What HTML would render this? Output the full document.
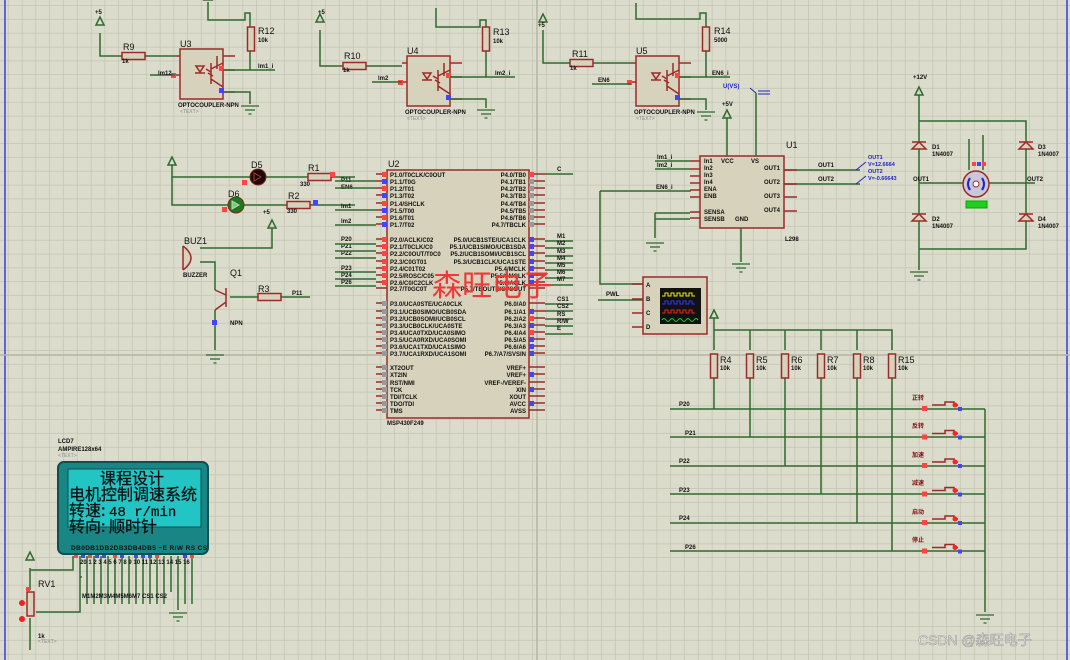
<!DOCTYPE html>
<html><head><meta charset="utf-8"><style>
html,body{margin:0;padding:0;}
body{width:1070px;height:660px;overflow:hidden;background:#dcdccd;}
svg{display:block;font-family:"Liberation Sans","Noto Sans CJK SC",sans-serif;}
.w{stroke:#2f6a2f;stroke-width:1.5;fill:none}
.c{stroke:#9b2a2a;stroke-width:1.5;fill:#d6d2bb}
.cl{stroke:#9b2a2a;stroke-width:1.5;fill:none}
.t{font-size:6px;font-weight:bold;fill:#111}
.g{font-size:5px;fill:#888}
.lb{font-size:9px;fill:#111}
</style></head><body>
<svg width="1070" height="660" viewBox="0 0 1070 660">
<defs>
<pattern id="grid" x="8.6" y="6" width="13.8" height="13.8" patternUnits="userSpaceOnUse">
<path d="M13.8 0V13.8M0 13.8H13.8" stroke="#c0c0ae" stroke-width="1.3" fill="none"/>
</pattern>
<g id="rh"><rect x="0" y="-3.5" width="23" height="7" class="c"/></g>
<g id="rv"><rect x="-3.5" y="0" width="7" height="24" class="c"/></g>
<g id="pw"><path d="M0 8L-4 0H4Z M-4 0H4" class="w" transform="translate(0,-8) scale(1,-1) translate(0,-8)"/></g>
<g id="gnd"><path d="M-9 0H9M-5 4H5M-1.5 8H1.5" stroke="#2f6a2f" stroke-width="1.3"/></g>
<g id="opto">
<rect x="0" y="0" width="43" height="50" class="c"/>
<path d="M-5 7H0M-5 26H0M43 7H55M43 21H55M43 43H55" class="cl"/>
<path d="M16 17L24 17L20 23Z M15 24H25" class="cl"/>
<path d="M26 20l5 3M28 24l5 3" class="cl"/>
<path d="M31 14V35M31 20L43 14M31 30L43 38M37 7V20" class="cl" />
<rect x="39" y="17" width="5" height="5" fill="#f44"/>
<rect x="39" y="39" width="5" height="5" fill="#44f"/>
<rect x="-9" y="24" width="5" height="5" fill="#f44"/>
<text x="-2" y="58" class="t">OPTOCOUPLER-NPN</text>
<text x="0" y="64" class="g">&lt;TEXT&gt;</text>
</g>
</defs>
<rect width="1070" height="660" fill="url(#grid)"/>
<line x1="5" y1="0" x2="5" y2="660" stroke="#3a3ae0" stroke-width="1.5"/>
<line x1="1067" y1="0" x2="1067" y2="660" stroke="#3a3ae0" stroke-width="1.5"/>
<line x1="537" y1="0" x2="537" y2="660" stroke="#b5b5a3" stroke-width="1.5"/>
<line x1="0" y1="355" x2="1070" y2="355" stroke="#b5b5a3" stroke-width="1.5"/>

<g transform="translate(180,49)"><use href="#opto"/></g>
<text x="180" y="47" class="lb">U3</text>
<path class="w" d="M100 33V56H122M145 56H175M150 75H175M223 70H275M250 50V70M223 92H250V104M208 2V20H245V13H250V27M240 70" />
<use href="#pw" x="100" y="25"/><text x="95" y="14" class="t">+5</text>
<use href="#rh" x="122" y="56"/><text x="123" y="50" class="lb">R9</text><text x="122" y="63" class="t">1k</text>
<use href="#rv" x="251" y="27"/><text x="258" y="34" class="lb">R12</text><text x="258" y="42" class="t">10k</text>
<use href="#gnd" x="250" y="106"/>
<path d="M204 0l4 -6 4 6z" class="w"/>
<text x="158" y="75" class="t">lm12</text><text x="258" y="68" class="t">lm1_i</text>

<g transform="translate(407,56)"><use href="#opto"/></g>
<text x="407" y="54" class="lb">U4</text>
<path class="w" d="M320 30V66H343M366 66H402M372 82H402M450 77H515M486 50V77M450 99H486V108M436 8V27H480V20H486V27" />
<use href="#pw" x="320" y="22"/><text x="318" y="14" class="t">+5</text>
<use href="#rh" x="343" y="66"/><text x="344" y="59" class="lb">R10</text><text x="343" y="72" class="t">1k</text>
<use href="#rv" x="486" y="27"/><text x="493" y="35" class="lb">R13</text><text x="493" y="43" class="t">10k</text>
<use href="#gnd" x="486" y="110"/>
<text x="378" y="80" class="t">lm2</text><text x="495" y="75" class="t">lm2_i</text>

<g transform="translate(636,56)"><use href="#opto"/></g>
<text x="636" y="54" class="lb">U5</text>
<path class="w" d="M543 30V63H570M593 63H631M592 84H631M679 77H730M706 50V77M679 99H706V110M636 3V19H700V13H706V27" />
<use href="#pw" x="543" y="22"/><text x="538" y="27" class="t">+5</text>
<use href="#rh" x="570" y="63"/><text x="572" y="57" class="lb">R11</text><text x="570" y="70" class="t">1k</text>
<use href="#rv" x="706" y="27"/><text x="714" y="34" class="lb">R14</text><text x="714" y="42" class="t">5000</text>
<use href="#gnd" x="706" y="112"/>
<text x="598" y="82" class="t">EN6</text><text x="712" y="75" class="t">EN6_i</text>

<path class="w" d="M172 165V205H228M172 177H250M266 177H308M243 205H287M331 177H355M308 205H355" />
<use href="#pw" x="172" y="165"/>
<circle cx="258" cy="177" r="8" fill="#1a0c0c" stroke="#8b2020"/>
<path d="M254 173v8l7-4z" fill="none" stroke="#a33"/>
<circle cx="236" cy="205" r="8" fill="#1b7a1b" stroke="#8b2020"/>
<path d="M232 201v8l7-4z" fill="#7c7" stroke="#ccc"/>
<text x="251" y="168" class="lb">D5</text><text x="228" y="197" class="lb">D6</text>
<use href="#rh" x="308" y="177"/><text x="308" y="171" class="lb">R1</text>
<use href="#rh" x="287" y="205"/><text x="288" y="199" class="lb">R2</text>
<text x="300" y="186" class="t">330</text><text x="287" y="213" class="t">330</text>
<text x="263" y="214" class="t">+5</text>
<rect x="242" y="180" width="5" height="5" fill="#f44"/><rect x="222" y="207" width="5" height="5" fill="#f44"/>
<rect x="330" y="172" width="5" height="5" fill="#f44"/><rect x="313" y="200" width="5" height="5" fill="#44f"/>

<path class="w" d="M272 228V248H200M200 262H215V290M215 310V350M230 297H258M281 297H310" />
<use href="#pw" x="272" y="228"/>
<path d="M183 246V270 M183 246Q199 258 183 270" class="c"/>
<text x="184" y="244" class="lb">BUZ1</text><text x="183" y="277" class="t">BUZZER</text>
<path d="M226 288V307M215 290L226 295M215 310L226 302" class="cl"/>
<text x="230" y="276" class="lb">Q1</text><text x="230" y="325" class="t">NPN</text>
<use href="#rh" x="258" y="297"/><text x="258" y="292" class="lb">R3</text><text x="292" y="295" class="t">P11</text>
<use href="#gnd" x="215" y="355"/>
<rect x="212" y="320" width="5" height="5" fill="#44f"/>

<g class="t">
<text x="341" y="182">P11</text><text x="341" y="189">EN6</text><text x="341" y="208">lm1</text><text x="341" y="223">lm2</text>
<text x="341" y="241">P20</text><text x="341" y="248">P21</text><text x="341" y="255">P22</text><text x="341" y="270">P23</text><text x="341" y="277">P24</text><text x="341" y="284">P26</text>
</g>
<path class="w" d="M335 181H376M335 188H376M335 210H376M335 225H376M335 244H376M335 251H376M335 258H376M335 272H376M335 279H376M335 286H376"/>

<rect x="387" y="170" width="142" height="248" class="c"/>
<text x="388" y="167" class="lb">U2</text>
<path class="cl" d="M376 174H387M376 181H387M376 188H387M376 195H387M376 203H387M376 210H387M376 217H387M376 224H387
M376 239H387M376 246H387M376 253H387M376 261H387M376 268H387M376 275H387M376 282H387M376 288H387
M376 303H387M376 311H387M376 318H387M376 325H387M376 332H387M376 339H387M376 346H387M376 353H387
M376 367H387M376 374H387M376 382H387M376 389H387M376 396H387M376 403H387M376 410H387
M529 174H545M529 181H545M529 188H545M529 195H545M529 203H545M529 210H545M529 217H545M529 224H545
M529 239H545M529 246H545M529 253H545M529 261H545M529 268H545M529 275H545M529 282H545M529 288H545
M529 303H545M529 311H545M529 318H545M529 325H545M529 332H545M529 339H545M529 346H545M529 353H545
M529 367H545M529 374H545M529 382H545M529 389H545M529 396H545M529 403H545M529 410H545"/>
<g fill="#f44"><rect x="382" y="172" width="5" height="5"/><rect x="382" y="186" width="5" height="5"/><rect x="382" y="201" width="5" height="5"/><rect x="382" y="215" width="5" height="5"/>
<rect x="382" y="237" width="5" height="5"/><rect x="382" y="244" width="5" height="5"/><rect x="382" y="251" width="5" height="5"/><rect x="382" y="259" width="5" height="5"/><rect x="382" y="266" width="5" height="5"/><rect x="382" y="273" width="5" height="5"/><rect x="382" y="280" width="5" height="5"/>
<rect x="529" y="172" width="5" height="5"/><rect x="529" y="316" width="5" height="5"/><rect x="529" y="330" width="5" height="5"/></g>
<g fill="#44f"><rect x="382" y="179" width="5" height="5"/><rect x="382" y="193" width="5" height="5"/><rect x="382" y="208" width="5" height="5"/><rect x="382" y="222" width="5" height="5"/>
<rect x="529" y="237" width="5" height="5"/><rect x="529" y="244" width="5" height="5"/><rect x="529" y="251" width="5" height="5"/><rect x="529" y="259" width="5" height="5"/><rect x="529" y="266" width="5" height="5"/><rect x="529" y="273" width="5" height="5"/><rect x="529" y="280" width="5" height="5"/>
<rect x="529" y="309" width="5" height="5"/><rect x="529" y="323" width="5" height="5"/><rect x="529" y="337" width="5" height="5"/><rect x="529" y="344" width="5" height="5"/><rect x="529" y="351" width="5" height="5"/>
<rect x="529" y="372" width="5" height="5"/><rect x="529" y="387" width="5" height="5"/><rect x="529" y="401" width="5" height="5"/></g>
<g fill="#999"><rect x="382" y="301" width="5" height="5"/><rect x="382" y="309" width="5" height="5"/><rect x="382" y="316" width="5" height="5"/><rect x="382" y="323" width="5" height="5"/><rect x="382" y="330" width="5" height="5"/><rect x="382" y="337" width="5" height="5"/><rect x="382" y="344" width="5" height="5"/><rect x="382" y="351" width="5" height="5"/>
<rect x="382" y="365" width="5" height="5"/><rect x="382" y="372" width="5" height="5"/><rect x="382" y="380" width="5" height="5"/><rect x="382" y="387" width="5" height="5"/><rect x="382" y="394" width="5" height="5"/><rect x="382" y="401" width="5" height="5"/><rect x="382" y="408" width="5" height="5"/>
<rect x="529" y="179" width="5" height="5"/><rect x="529" y="186" width="5" height="5"/><rect x="529" y="193" width="5" height="5"/><rect x="529" y="201" width="5" height="5"/><rect x="529" y="208" width="5" height="5"/><rect x="529" y="215" width="5" height="5"/><rect x="529" y="222" width="5" height="5"/></g>
<g class="t" font-size="5.5">
<text x="390" y="177">P1.0/T0CLK/C0OUT</text><text x="390" y="184">P1.1/T0G</text><text x="390" y="191">P1.2/T01</text><text x="390" y="198">P1.3/T02</text><text x="390" y="206">P1.4/SHCLK</text><text x="390" y="213">P1.5/T00</text><text x="390" y="220">P1.6/T01</text><text x="390" y="227">P1.7/T02</text>
<text x="390" y="242">P2.0/ACLK/C02</text><text x="390" y="249">P2.1/T0CLK/C0</text><text x="390" y="256">P2.2/C0OUT/T0C0</text><text x="390" y="264">P2.3/C0GT01</text><text x="390" y="271">P2.4/C01T02</text><text x="390" y="278">P2.5/ROSC/C05</text><text x="390" y="285">P2.6/C0/C2CLK</text><text x="390" y="291">P2.7/T0GC0T</text>
<text x="390" y="306">P3.0/UCA0STE/UCA0CLK</text><text x="390" y="314">P3.1/UCB0SIMO/UCB0SDA</text><text x="390" y="321">P3.2/UCB0SOMI/UCB0SCL</text><text x="390" y="328">P3.3/UCB0CLK/UCA0STE</text><text x="390" y="335">P3.4/UCA0TXD/UCA0SIMO</text><text x="390" y="342">P3.5/UCA0RXD/UCA0SOMI</text><text x="390" y="349">P3.6/UCA1TXD/UCA1SIMO</text><text x="390" y="356">P3.7/UCA1RXD/UCA1SOMI</text>
<text x="390" y="370">XT2OUT</text><text x="390" y="377">XT2IN</text><text x="390" y="385">RST/NMI</text><text x="390" y="392">TCK</text><text x="390" y="399">TDI/TCLK</text><text x="390" y="406">TDO/TDI</text><text x="390" y="413">TMS</text>
<g text-anchor="end"><text x="526" y="177">P4.0/TB0</text><text x="526" y="184">P4.1/TB1</text><text x="526" y="191">P4.2/TB2</text><text x="526" y="198">P4.3/TB3</text><text x="526" y="206">P4.4/TB4</text><text x="526" y="213">P4.5/TB5</text><text x="526" y="220">P4.6/TB6</text><text x="526" y="227">P4.7/TBCLK</text>
<text x="526" y="242">P5.0/UCB1STE/UCA1CLK</text><text x="526" y="249">P5.1/UCB1SIMO/UCB1SDA</text><text x="526" y="256">P5.2/UCB1SOMI/UCB1SCL</text><text x="526" y="264">P5.3/UCB1CLK/UCA1STE</text><text x="526" y="271">P5.4/MCLK</text><text x="526" y="278">P5.5/SMCLK</text><text x="526" y="285">P5.6/ACLK</text><text x="526" y="291">P5.7/TBOUTH/SVSOUT</text>
<text x="526" y="306">P6.0/A0</text><text x="526" y="314">P6.1/A1</text><text x="526" y="321">P6.2/A2</text><text x="526" y="328">P6.3/A3</text><text x="526" y="335">P6.4/A4</text><text x="526" y="342">P6.5/A5</text><text x="526" y="349">P6.6/A6</text><text x="526" y="356">P6.7/A7/SVSIN</text>
<text x="526" y="370">VREF+</text><text x="526" y="377">VREF+</text><text x="526" y="385">VREF-/VEREF-</text><text x="526" y="392">XIN</text><text x="526" y="399">XOUT</text><text x="526" y="406">AVCC</text><text x="526" y="413">AVSS</text></g>
</g>
<text x="387" y="425" class="t">MSP430F249</text>
<path class="w" d="M545 174H573M545 241H573M545 248H573M545 256H573M545 263H573M545 270H573M545 278H573M545 285H573M545 304H573M545 311H573M545 319H573M545 326H573M545 334H573"/>
<g class="t"><text x="557" y="171">C</text><text x="557" y="238">M1</text><text x="557" y="245">M2</text><text x="557" y="253">M3</text><text x="557" y="260">M4</text><text x="557" y="267">M5</text><text x="557" y="274">M6</text><text x="557" y="281">M7</text><text x="557" y="301">CS1</text><text x="557" y="308">CS2</text><text x="557" y="316">RS</text><text x="557" y="323">R/W</text><text x="557" y="330">E</text></g>
<text x="432" y="296" font-size="30" fill="#f03838" font-family="'Noto Sans CJK SC',sans-serif">森旺电子</text>

<rect x="700" y="156" width="84" height="72" class="c"/>
<text x="786" y="148" class="lb">U1</text><text x="785" y="241" class="t">L298</text>
<path class="w" d="M727 118V156M756 93V156M655 161H690M655 169H690M600 191H690V190M600 191V284H643M655 213H690M655 219H690M655 213V238M741 228V262M784 170H860M784 184H860M598 300H643"/>
<use href="#pw" x="727" y="118"/><text x="722" y="106" class="t">+5V</text>
<use href="#gnd" x="655" y="243"/><use href="#gnd" x="741" y="264"/>
<path class="cl" d="M690 161H700M690 169H700M690 176H700M690 183H700M690 190H700M690 197H700M690 212H700M690 218H700M784 170H797M784 184H797M784 197H797M784 211H797"/>
<g class="t"><text x="704" y="163">In1</text><text x="704" y="170">In2</text><text x="704" y="177">In3</text><text x="704" y="184">In4</text><text x="704" y="191">ENA</text><text x="704" y="198">ENB</text><text x="704" y="214">SENSA</text><text x="704" y="221">SENSB</text><text x="721" y="163">VCC</text><text x="751" y="163">VS</text><text x="735" y="221">GND</text>
<text x="764" y="170">OUT1</text><text x="764" y="184">OUT2</text><text x="764" y="198">OUT3</text><text x="764" y="212">OUT4</text>
<text x="657" y="159">lm1_i</text><text x="657" y="167">lm2_i</text><text x="656" y="189">EN6_i</text><text x="818" y="167">OUT1</text><text x="818" y="181">OUT2</text>
<text x="723" y="88" fill="#22c">U(VS)</text></g>
<path d="M750 88l6 5M758 91h12M758 94h12" stroke="#22c" fill="none"/>
<g fill="#22c" font-size="5.5" font-weight="bold"><text x="868" y="159">OUT1</text><text x="868" y="166">V=12.6664</text><text x="868" y="173">OUT2</text><text x="868" y="180">V=-0.66643</text></g>
<path d="M856 170l10 -8M856 184l10 -8" stroke="#22c" fill="none"/>

<rect x="643" y="277" width="64" height="57" class="c"/>
<rect x="660" y="288" width="41" height="36" fill="#111"/>
<path d="M662 296h3v-3h3v3h3v-3h3v3h3v-3h3v3h3v-3h3v3h3v-3h3v3h3" stroke="#ee0" fill="none"/>
<path d="M662 304h3v-3h3v3h3v-3h3v3h3v-3h3v3h3v-3h3v3h3v-3h3v3h3" stroke="#33f" fill="none"/>
<path d="M662 313h3v-3h3v3h3v-3h3v3h3v-3h3v3h3v-3h3v3h3v-3h3v3h3" stroke="#e22" fill="none"/>
<path d="M662 320q2 -3 4 0t4 0t4 0t4 0t4 0t4 0t4 0t4 0t4 0" stroke="#2c2" fill="none"/>
<path class="cl" d="M632 284H643M632 299H643M632 313H643M632 327H643"/>
<g class="t"><text x="646" y="287">A</text><text x="646" y="301">B</text><text x="646" y="315">C</text><text x="646" y="329">D</text><text x="606" y="296">PWL</text></g>

<path class="w" d="M919 95V270M919 121H1026V249H919M919 183H963M989 183H1035M969 139V170M983 135V170"/>
<use href="#pw" x="919" y="95"/><text x="913" y="79" class="t">+12V</text>
<use href="#gnd" x="919" y="272"/>
<g class="c"><path d="M912 149H926L919 142ZM912 142H926"/><path d="M1019 149H1033L1026 142ZM1019 142H1033"/><path d="M912 221H926L919 214ZM912 214H926"/><path d="M1019 221H1033L1026 214ZM1019 214H1033"/></g>
<g class="t"><text x="932" y="149">D1</text><text x="932" y="156">1N4007</text><text x="1038" y="149">D3</text><text x="1038" y="156">1N4007</text><text x="932" y="221">D2</text><text x="932" y="228">1N4007</text><text x="1038" y="221">D4</text><text x="1038" y="228">1N4007</text><text x="913" y="181">OUT1</text><text x="1027" y="181">OUT2</text></g>
<circle cx="976" cy="184" r="13" fill="#c8c8d8" stroke="#9b2a2a" stroke-width="1.5"/>
<circle cx="976" cy="184" r="3" fill="#fff" stroke="#9b2a2a"/>
<path d="M970 178q-4 6 0 12M982 178q4 6 0 12" stroke="#22c" stroke-width="2" fill="none"/>
<rect x="966" y="201" width="21" height="7" fill="#2c2" stroke="#0a0"/>
<rect x="972" y="162" width="4" height="4" fill="#f44"/><rect x="977" y="162" width="4" height="4" fill="#44f"/><rect x="982" y="162" width="4" height="4" fill="#f44"/>

<path class="w" d="M714 318V350M714 330H892V350M750 330V350M785 330V350M821 330V350M857 330V350M714 378V409M750 378V437M785 378V466M821 378V494M857 378V523M892 378V551
M670 409H985M670 437H985M670 466H985M670 494H985M670 523H985M670 551H985M985 409V612"/>
<use href="#pw" x="714" y="318"/>
<use href="#gnd" x="985" y="615"/>
<g class="t"><text x="679" y="406">P20</text><text x="685" y="435">P21</text><text x="679" y="463">P22</text><text x="679" y="492">P23</text><text x="679" y="520">P24</text><text x="685" y="549">P26</text></g>
<g>
<use href="#rv" x="714" y="354"/><use href="#rv" x="750" y="354"/><use href="#rv" x="785" y="354"/><use href="#rv" x="821" y="354"/><use href="#rv" x="857" y="354"/><use href="#rv" x="892" y="354"/>
</g>
<g class="lb" font-size="8"><text x="720" y="363">R4</text><text x="756" y="363">R5</text><text x="791" y="363">R6</text><text x="827" y="363">R7</text><text x="863" y="363">R8</text><text x="898" y="363">R15</text></g>
<g class="t"><text x="720" y="370">10k</text><text x="756" y="370">10k</text><text x="791" y="370">10k</text><text x="827" y="370">10k</text><text x="863" y="370">10k</text><text x="898" y="370">10k</text></g>
<g>
<g transform="translate(0,0)"><path d="M932 405H945V402H954V405H958" class="cl"/><rect x="922" y="406" width="5" height="5" fill="#f44"/><circle cx="955" cy="405" r="2.5" fill="#f22"/><rect x="958" y="407" width="4" height="4" fill="#44f"/></g>
<g transform="translate(0,28.5)"><path d="M932 405H945V402H954V405H958" class="cl"/><rect x="922" y="406" width="5" height="5" fill="#f44"/><circle cx="955" cy="405" r="2.5" fill="#f22"/><rect x="958" y="407" width="4" height="4" fill="#44f"/></g>
<g transform="translate(0,57)"><path d="M932 405H945V402H954V405H958" class="cl"/><rect x="922" y="406" width="5" height="5" fill="#f44"/><circle cx="955" cy="405" r="2.5" fill="#f22"/><rect x="958" y="407" width="4" height="4" fill="#44f"/></g>
<g transform="translate(0,85.5)"><path d="M932 405H945V402H954V405H958" class="cl"/><rect x="922" y="406" width="5" height="5" fill="#f44"/><circle cx="955" cy="405" r="2.5" fill="#f22"/><rect x="958" y="407" width="4" height="4" fill="#44f"/></g>
<g transform="translate(0,114)"><path d="M932 405H945V402H954V405H958" class="cl"/><rect x="922" y="406" width="5" height="5" fill="#f44"/><circle cx="955" cy="405" r="2.5" fill="#f22"/><rect x="958" y="407" width="4" height="4" fill="#44f"/></g>
<g transform="translate(0,142.5)"><path d="M932 405H945V402H954V405H958" class="cl"/><rect x="922" y="406" width="5" height="5" fill="#f44"/><circle cx="955" cy="405" r="2.5" fill="#f22"/><rect x="958" y="407" width="4" height="4" fill="#44f"/></g>
</g>
<g font-size="6" fill="#7a1010" font-weight="bold" font-family="'Noto Sans CJK SC',sans-serif"><text x="912" y="400">正转</text><text x="912" y="428">反转</text><text x="912" y="457">加速</text><text x="912" y="485">减速</text><text x="912" y="514">启动</text><text x="912" y="542">停止</text></g>

<text x="58" y="443" class="t" font-size="7">LCD7</text><text x="58" y="451" class="t">AMPIRE128x64</text><text x="58" y="457" class="g">&lt;TEXT&gt;</text>
<rect x="58" y="462" width="150" height="92" rx="6" fill="#1a8585" stroke="#0f4f4f" stroke-width="2"/>
<rect x="68" y="469" width="133" height="58" fill="#22c4c4" stroke="#0f4f4f"/>
<g font-size="16" fill="#111" stroke="#111" stroke-width="0.3" font-family="'Noto Sans CJK SC','WenQuanYi Zen Hei',sans-serif">
<text x="100" y="484">课程设计</text>
<text x="69" y="500">电机控制调速系统</text>
<text x="69" y="516">转速:  <tspan font-family="'Liberation Mono',monospace" font-size="14">48 r/min</tspan></text>
<text x="69" y="532">转向:  顺时针</text>
</g>
<text x="71" y="550" font-size="6.5" font-weight="bold" fill="#111" letter-spacing="0.4">DB0DB1DB2DB3DB4DB5 ~E R/W RS CS</text>
<path class="w" d="M73 556V570H30V590M80 556V577H82M87 556V604M94 556V604M101 556V604M108 556V604M115 556V604M122 556V604M129 556V604M136 556V604M143 556V604M150 556V604M157 556V604M164 556V604M171 556V592M178 556V610M185 556V604M192 556V604M80 556V612H36M30 568V590M30 618V650"/>
<g fill="#f44"><rect x="74" y="555" width="4" height="3"/><rect x="88" y="555" width="4" height="3"/><rect x="113" y="555" width="4" height="3"/><rect x="155" y="555" width="4" height="3"/><rect x="190" y="555" width="4" height="3"/></g>
<g fill="#44f"><rect x="81" y="555" width="4" height="3"/><rect x="95" y="555" width="4" height="3"/><rect x="102" y="555" width="4" height="3"/><rect x="120" y="555" width="4" height="3"/><rect x="134" y="555" width="4" height="3"/><rect x="141" y="555" width="4" height="3"/><rect x="148" y="555" width="4" height="3"/><rect x="183" y="555" width="4" height="3"/></g>
<text x="80" y="564" class="t" font-size="4.5">20 1 2 3 4 5 6 7 8 9 10 11 12 13 14 15 16</text>
<text x="82" y="598" class="t" font-size="5.5">M1M2M3M4M5M6M7 CS1 CS2</text>
<use href="#pw" x="30" y="560"/>
<use href="#gnd" x="178" y="613"/>
<rect x="27" y="592" width="7" height="24" class="c"/>
<circle cx="22" cy="603" r="3" fill="#e22"/><circle cx="22" cy="619" r="3" fill="#e22"/>
<rect x="26" y="587" width="4" height="4" fill="#f44"/>
<text x="38" y="587" class="lb" font-size="8">RV1</text><text x="38" y="638" class="t">1k</text><text x="38" y="643" class="g">&lt;TEXT&gt;</text>

<text x="918" y="645" font-size="14" fill="#f4f4f4" stroke="#9a9a9a" stroke-width="0.6" font-family="'Liberation Sans','Noto Sans CJK SC',sans-serif">CSDN @森旺电子</text>
</svg>
</body></html>
